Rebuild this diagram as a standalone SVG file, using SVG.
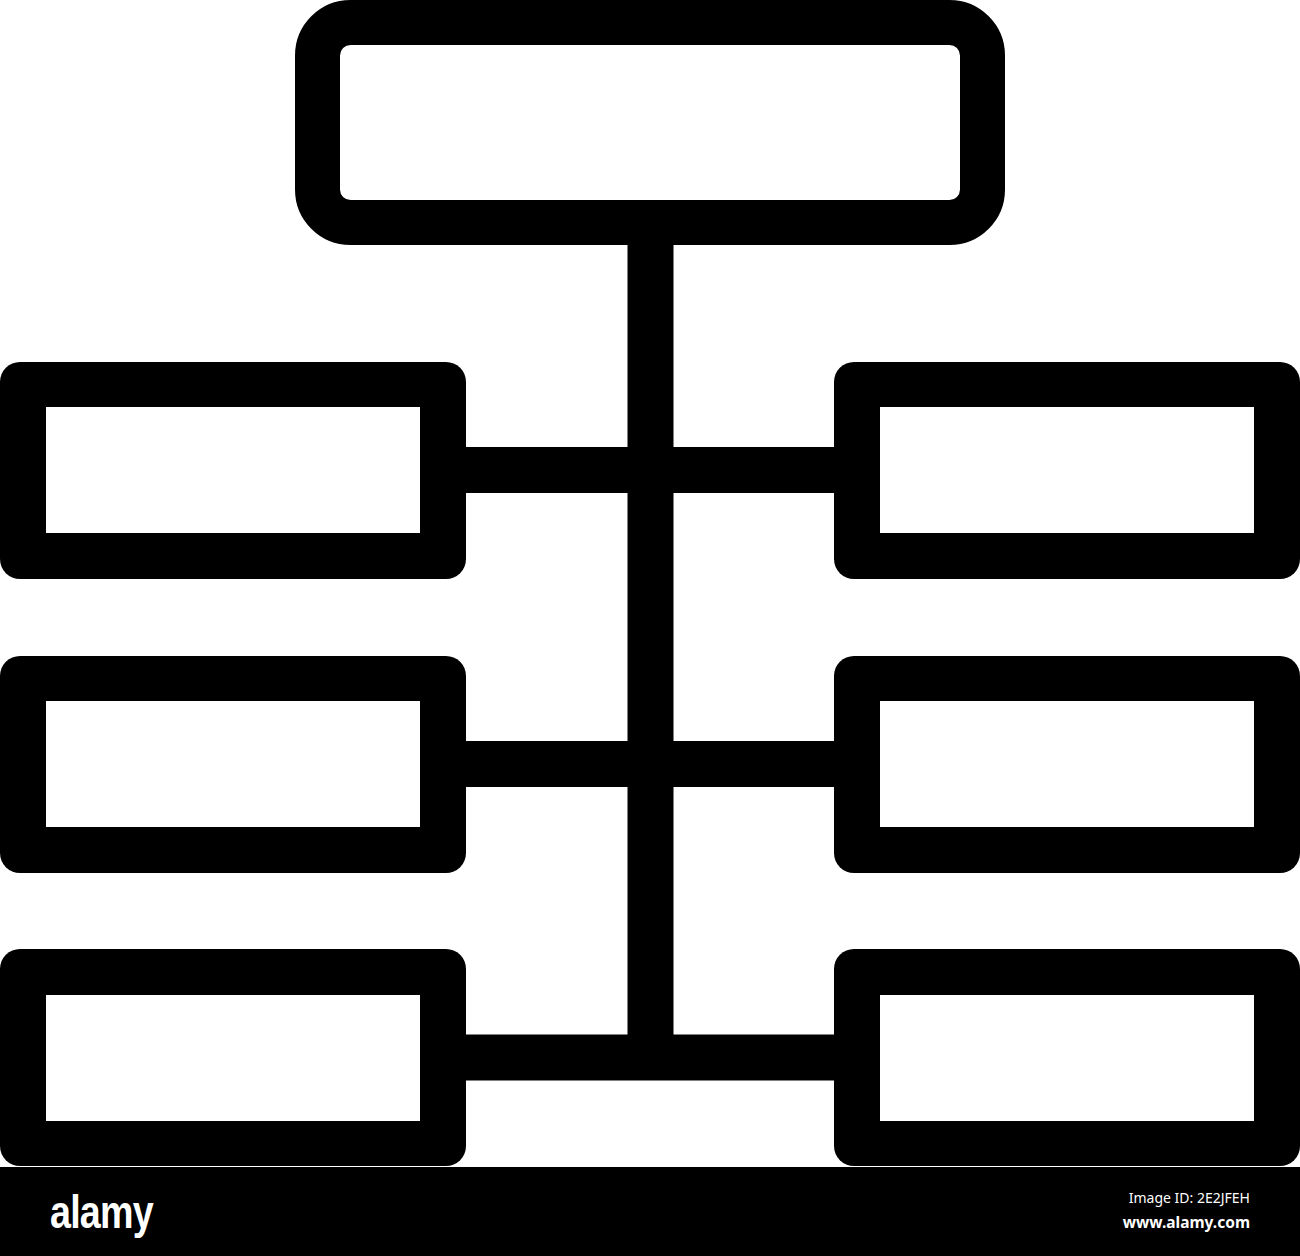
<svg xmlns="http://www.w3.org/2000/svg" width="1300" height="1256" viewBox="0 0 1300 1256">
<style>
.outer{fill:#000}
.inner{fill:#fff}
.conn{stroke:#000;stroke-width:46;fill:none;stroke-linecap:butt}
</style>
<rect width="1300" height="1256" fill="#fff"/>
<g id="connectors">
<line class="conn" x1="650.5" y1="235" x2="650.5" y2="1058"/>
<line class="conn" x1="455" y1="470" x2="845" y2="470"/>
<line class="conn" x1="455" y1="764" x2="845" y2="764"/>
<line class="conn" x1="455" y1="1057.5" x2="845" y2="1057.5"/>
</g>
<g id="top">
<rect x="317.5" y="22.5" width="665" height="200" rx="33" fill="none" stroke="#000" stroke-width="45"/>
</g>
<g id="left1"><rect class="outer" x="0" y="362" width="466" height="217" rx="20"/><rect class="inner" x="46" y="407" width="374" height="126"/></g>
<g id="right1"><rect class="outer" x="834" y="362" width="466" height="217" rx="20"/><rect class="inner" x="880" y="407" width="374" height="126"/></g>
<g id="left2"><rect class="outer" x="0" y="656" width="466" height="217" rx="20"/><rect class="inner" x="46" y="701" width="374" height="126"/></g>
<g id="right2"><rect class="outer" x="834" y="656" width="466" height="217" rx="20"/><rect class="inner" x="880" y="701" width="374" height="126"/></g>
<g id="left3"><rect class="outer" x="0" y="949" width="466" height="217" rx="20"/><rect class="inner" x="46" y="995" width="374" height="126"/></g>
<g id="right3"><rect class="outer" x="834" y="949" width="466" height="217" rx="20"/><rect class="inner" x="880" y="995" width="374" height="126"/></g>
<g id="footer">
<rect x="0" y="1167" width="1300" height="89" fill="#000"/>
<text x="50" y="1228" font-family="Liberation Sans, Arial, sans-serif" font-weight="bold" font-size="46" fill="#fff" transform="translate(50 0) scale(0.82 1) translate(-50 0)" letter-spacing="-1">alamy</text>
<text x="1250" y="1203" text-anchor="end" font-family="Noto Sans, sans-serif" font-size="14" fill="#fff">Image ID: 2E2JFEH</text>
<text x="1250" y="1228" text-anchor="end" font-family="Noto Sans, sans-serif" font-weight="bold" font-size="15.5" fill="#fff">www.alamy.com</text>
</g>
</svg>
